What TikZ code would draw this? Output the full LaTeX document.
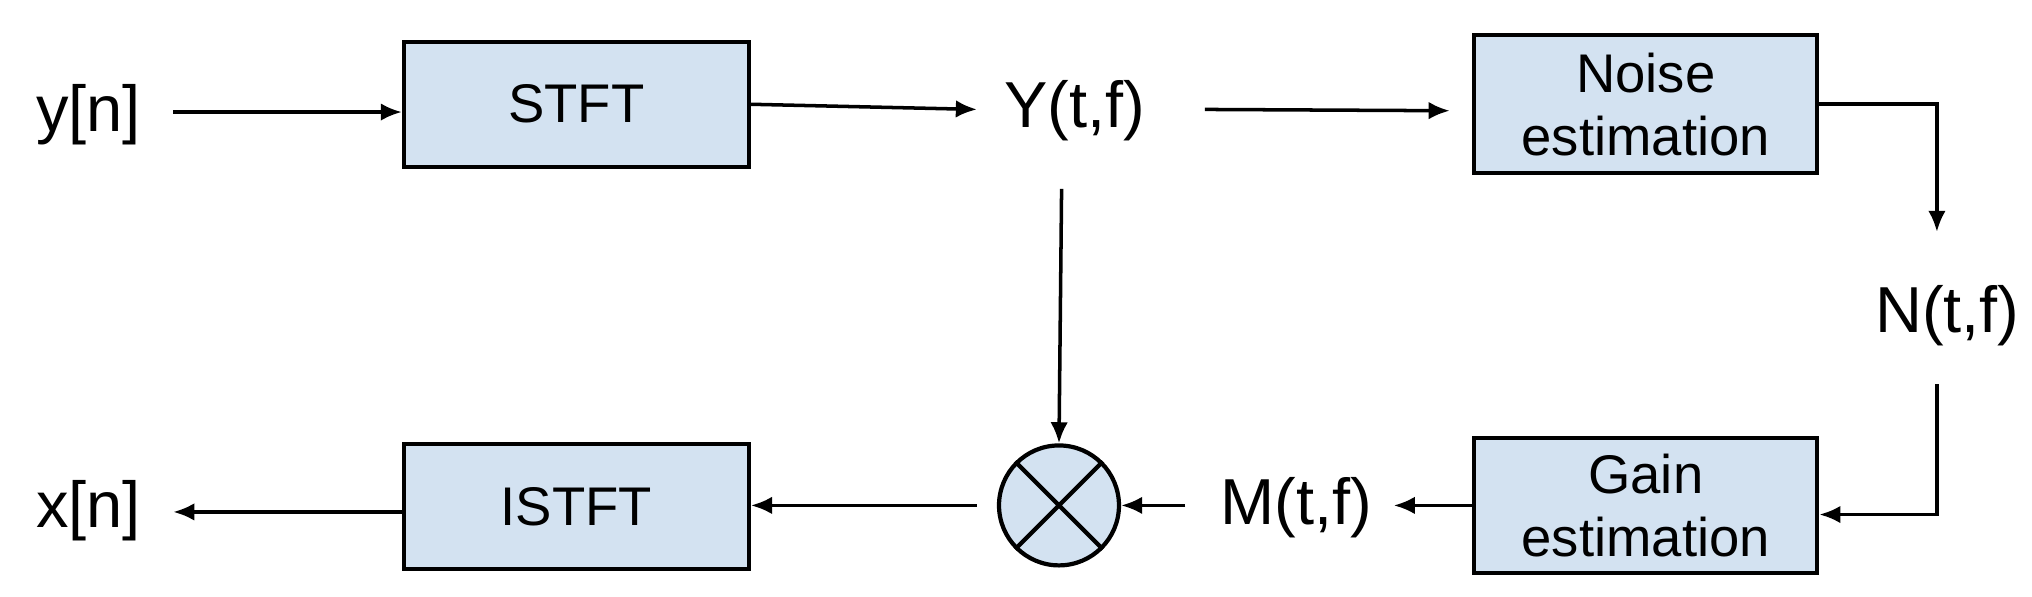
\documentclass[tikz,border=0pt]{standalone}
\usepackage{fontspec}
\setmainfont{Liberation Sans}
\usetikzlibrary{arrows.meta}
\definecolor{boxfill}{HTML}{D3E2F1}
\begin{document}
\begin{tikzpicture}[x=0.013026cm,y=-0.013026cm,
  box/.style={draw,line width=1.2pt,fill=boxfill,minimum width=3.45cm,minimum height=1.25cm,inner sep=0,align=center,font=\fontsize{15.5pt}{18pt}\selectfont},
  lbl/.style={inner sep=0,font=\fontsize{18.5pt}{22pt}\selectfont},
  arr/.style={draw,line width=1pt,-{Latex[length=6pt,width=5pt]}}]
\useasboundingbox (0,0) rectangle (1560,457.6);
\node[box] (stft) at (442.5,80) {STFT};
\node[box,minimum height=1.38cm,minimum width=3.43cm] (noise) at (1263.5,80) {Noise\\estimation};
\node[box,minimum height=1.35cm,minimum width=3.43cm] (gain) at (1263.5,388) {Gain\\estimation};
\node[box] (istft) at (442.5,389) {ISTFT};
\node[draw,line width=1.2pt,fill=boxfill,circle,minimum size=1.2cm,inner sep=0] (mul) at (813,388) {};
\draw[line width=1.2pt] (mul.north west) -- (mul.south east) (mul.north east) -- (mul.south west);
\node[lbl] (y) at (68,88) {y[n]};
\node[lbl] (Y) at (825,85) {Y(t,f)};
\node[lbl] (N) at (1495,242) {N(t,f)};
\node[lbl] (M) at (995,390) {M(t,f)};
\node[lbl] (x) at (68,392) {x[n]};
\coordinate (c1) at (1487,80);
\coordinate (c2) at (1487,395);
\path[arr] (133,86) -- (stft.west |- 0,86);
\path[arr] (575,80) -- (750,84);
\path[arr] (925,84) -- (1113,85);
\path[arr] (noise.east |- c1) -- (c1) -- (1487,178);
\path[arr] (1487,295) -- (c2) -- (gain.east |- c2);
\path[arr] (gain.west) -- (1070,388);
\path[arr] (910,388) -- (mul.east);
\path[arr] (750,388) -- (istft.east |- 0,388);
\path[arr] (istft.west |- 0,393) -- (133,393);
\path[arr] (815,145) -- (mul.north);
\end{tikzpicture}
\end{document}
